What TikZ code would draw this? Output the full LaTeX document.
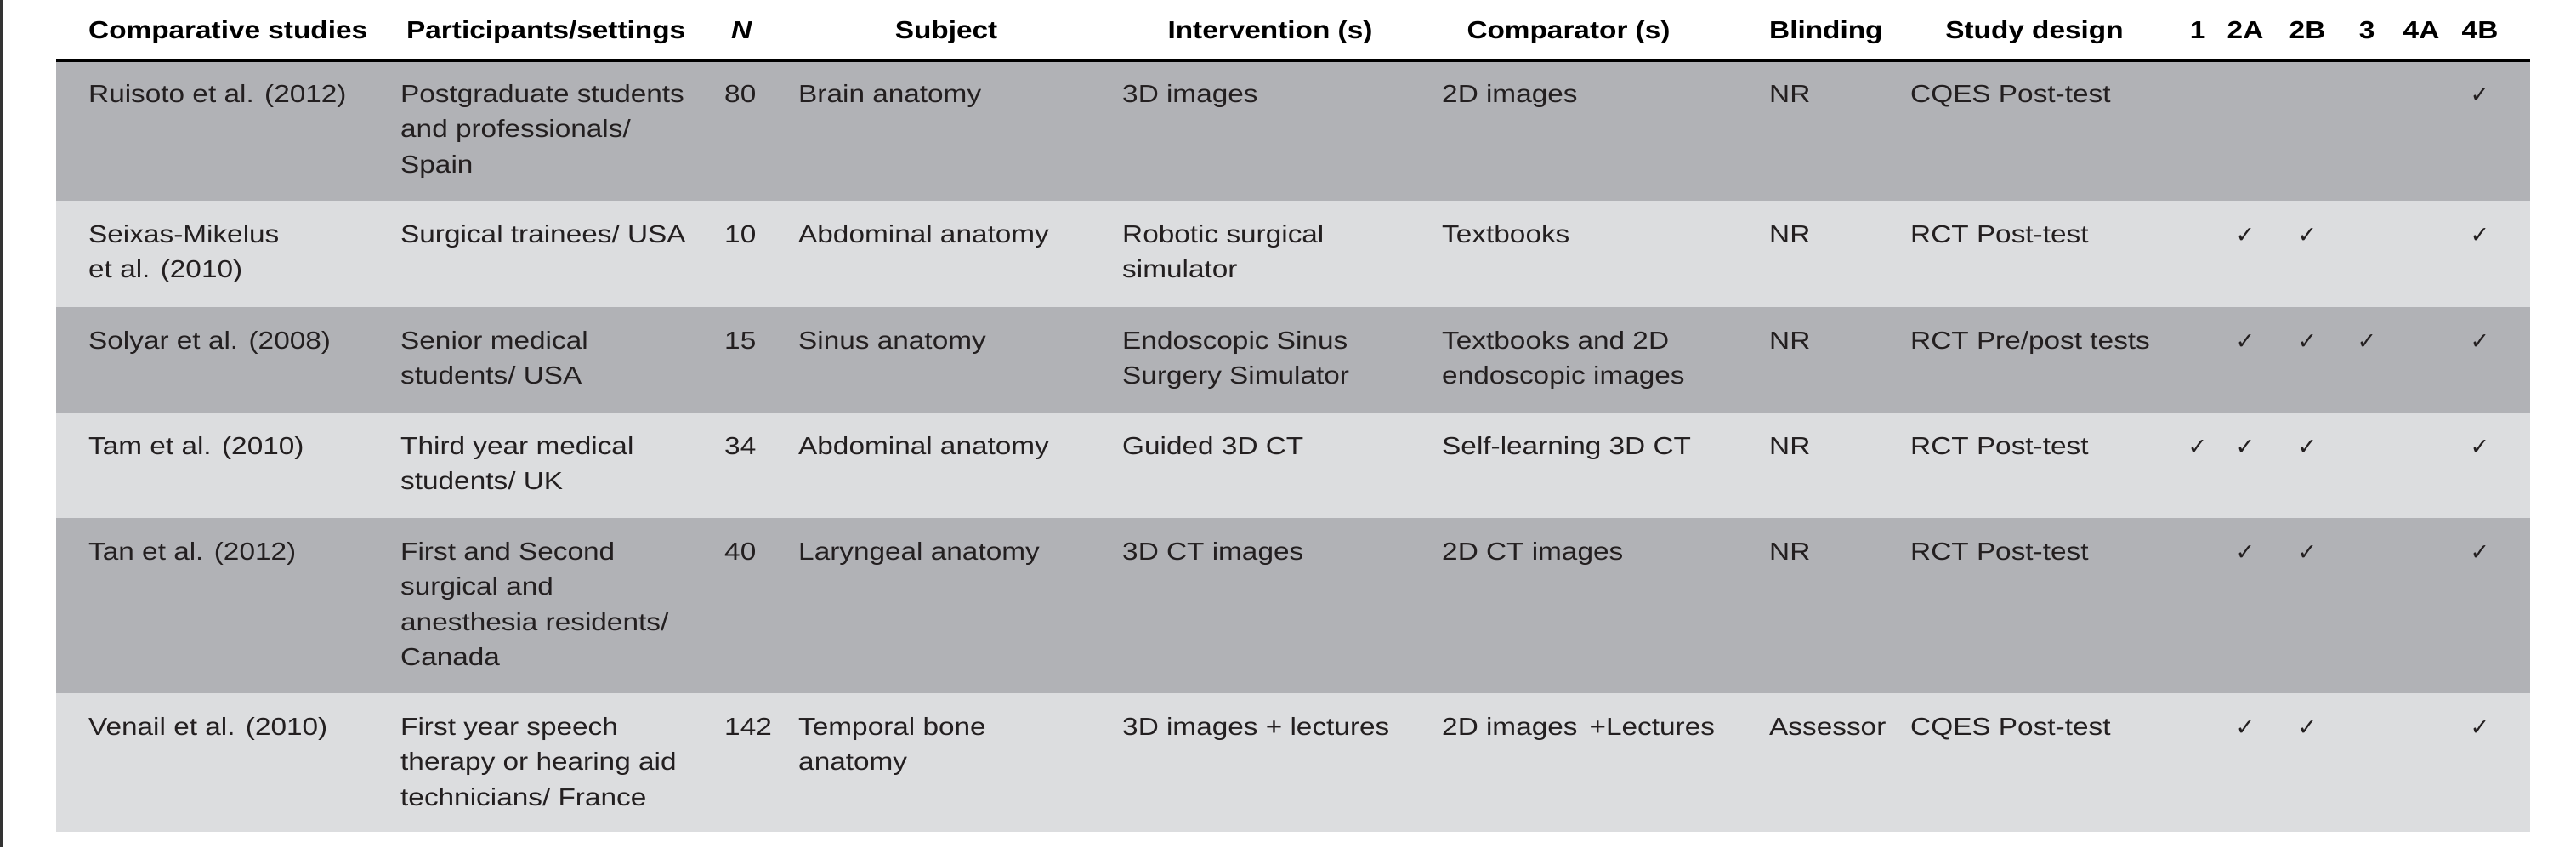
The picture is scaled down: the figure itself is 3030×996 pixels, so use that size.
\documentclass[tikz,border=0pt]{standalone}
\usepackage{fontspec}
\setmainfont{Liberation Sans}[FakeStretch=1.15]
\newfontfamily\chkfont{DejaVu Sans}
\definecolor{darkrow}{HTML}{B1B2B6}
\definecolor{lightrow}{HTML}{DCDDDF}
\definecolor{txt}{HTML}{231F20}
\newcommand{\tcell}[4]{\node[cellstyle] (#1) at (#2,#3) {\strut #4};}
\newcommand{\hcell}[4]{\node[headstyle] (#1) at (#2,45) {#4};}
\newcommand{\ck}[3]{\node[chkstyle] (#1) at (#2,#3) {✓};}
\begin{document}
\begin{tikzpicture}[x=1pt,y=-1pt,
  cellstyle/.style={anchor=north west,inner sep=0pt,align=left,text=txt,font=\fontsize{29}{41.5}\selectfont},
  headstyle/.style={anchor=base,inner sep=0pt,text=black,font=\fontsize{29}{35}\selectfont\bfseries},
  chkstyle/.style={anchor=base,inner sep=0pt,text=txt,font=\chkfont\fontsize{27}{30}\selectfont}]
\useasboundingbox (0,0) rectangle (3030,996);
\fill[white] (0,0) rectangle (3030,996);
\fill[black!80] (0,0) rectangle (4,996);
% rows
\fill[darkrow] (66,71) rectangle (2976,236);
\fill[lightrow] (66,236) rectangle (2976,361);
\fill[darkrow] (66,361) rectangle (2976,485);
\fill[lightrow] (66,485) rectangle (2976,609);
\fill[darkrow] (66,609) rectangle (2976,815);
\fill[lightrow] (66,815) rectangle (2976,978);
\draw[line width=3.5pt,black] (66,71) -- (2976,71);
% header
\node[headstyle,anchor=base west] (h1) at (104,45) {Comparative studies};
\node[headstyle,anchor=base west] (h2) at (478,45) {Participants/settings};
\node[headstyle,anchor=base west] (h3) at (860,45) {\itshape N};
\hcell{h4}{1113}{45}{Subject}
\hcell{h5}{1494}{45}{Intervention (s)}
\hcell{h6}{1845}{45}{Comparator (s)}
\node[headstyle,anchor=base west] (h7) at (2081,45) {Blinding};
\hcell{h8}{2393}{45}{Study design}
\hcell{h9}{2585}{45}{1}
\hcell{h10}{2641}{45}{2A}
\hcell{h11}{2714}{45}{2B}
\hcell{h12}{2784}{45}{3}
\hcell{h13}{2848}{45}{4A}
\hcell{h14}{2917}{45}{4B}
% row 1
\tcell{a1}{104}{91}{Ruisoto et al. (2012)}
\tcell{a2}{471}{91}{Postgraduate students\\and professionals/\\Spain}
\tcell{a3}{852}{91}{80}
\tcell{a4}{939}{91}{Brain anatomy}
\tcell{a5}{1320}{91}{3D images}
\tcell{a6}{1696}{91}{2D images}
\tcell{a7}{2081}{91}{NR}
\tcell{a8}{2247}{91}{CQES Post-test}
\ck{ac6}{2917}{120}
% row 2
\tcell{b1}{104}{256}{Seixas-Mikelus\\et al. (2010)}
\tcell{b2}{471}{256}{Surgical trainees/ USA}
\tcell{b3}{852}{256}{10}
\tcell{b4}{939}{256}{Abdominal anatomy}
\tcell{b5}{1320}{256}{Robotic surgical\\simulator}
\tcell{b6}{1696}{256}{Textbooks}
\tcell{b7}{2081}{256}{NR}
\tcell{b8}{2247}{256}{RCT Post-test}
\ck{bc2}{2641}{285}
\ck{bc3}{2714}{285}
\ck{bc6}{2917}{285}
% row 3
\tcell{c1}{104}{381}{Solyar et al. (2008)}
\tcell{c2}{471}{381}{Senior medical\\students/ USA}
\tcell{c3}{852}{381}{15}
\tcell{c4}{939}{381}{Sinus anatomy}
\tcell{c5}{1320}{381}{Endoscopic Sinus\\Surgery Simulator}
\tcell{c6}{1696}{381}{Textbooks and 2D\\endoscopic images}
\tcell{c7}{2081}{381}{NR}
\tcell{c8}{2247}{381}{RCT Pre/post tests}
\ck{cc2}{2641}{410}
\ck{cc3}{2714}{410}
\ck{cc4}{2784}{410}
\ck{cc6}{2917}{410}
% row 4
\tcell{d1}{104}{505}{Tam et al. (2010)}
\tcell{d2}{471}{505}{Third year medical\\students/ UK}
\tcell{d3}{852}{505}{34}
\tcell{d4}{939}{505}{Abdominal anatomy}
\tcell{d5}{1320}{505}{Guided 3D CT}
\tcell{d6}{1696}{505}{Self-learning 3D CT}
\tcell{d7}{2081}{505}{NR}
\tcell{d8}{2247}{505}{RCT Post-test}
\ck{dc1}{2585}{534}
\ck{dc2}{2641}{534}
\ck{dc3}{2714}{534}
\ck{dc6}{2917}{534}
% row 5
\tcell{e1}{104}{629}{Tan et al. (2012)}
\tcell{e2}{471}{629}{First and Second\\surgical and\\anesthesia residents/\\Canada}
\tcell{e3}{852}{629}{40}
\tcell{e4}{939}{629}{Laryngeal anatomy}
\tcell{e5}{1320}{629}{3D CT images}
\tcell{e6}{1696}{629}{2D CT images}
\tcell{e7}{2081}{629}{NR}
\tcell{e8}{2247}{629}{RCT Post-test}
\ck{ec2}{2641}{658}
\ck{ec3}{2714}{658}
\ck{ec6}{2917}{658}
% row 6
\tcell{f1}{104}{835}{Venail et al. (2010)}
\tcell{f2}{471}{835}{First year speech\\therapy or hearing aid\\technicians/ France}
\tcell{f3}{852}{835}{142}
\tcell{f4}{939}{835}{Temporal bone\\anatomy}
\tcell{f5}{1320}{835}{3D images + lectures}
\tcell{f6}{1696}{835}{2D images \,+Lectures}
\tcell{f7}{2081}{835}{Assessor}
\tcell{f8}{2247}{835}{CQES Post-test}
\ck{fc2}{2641}{864}
\ck{fc3}{2714}{864}
\ck{fc6}{2917}{864}
\end{tikzpicture}
\end{document}
